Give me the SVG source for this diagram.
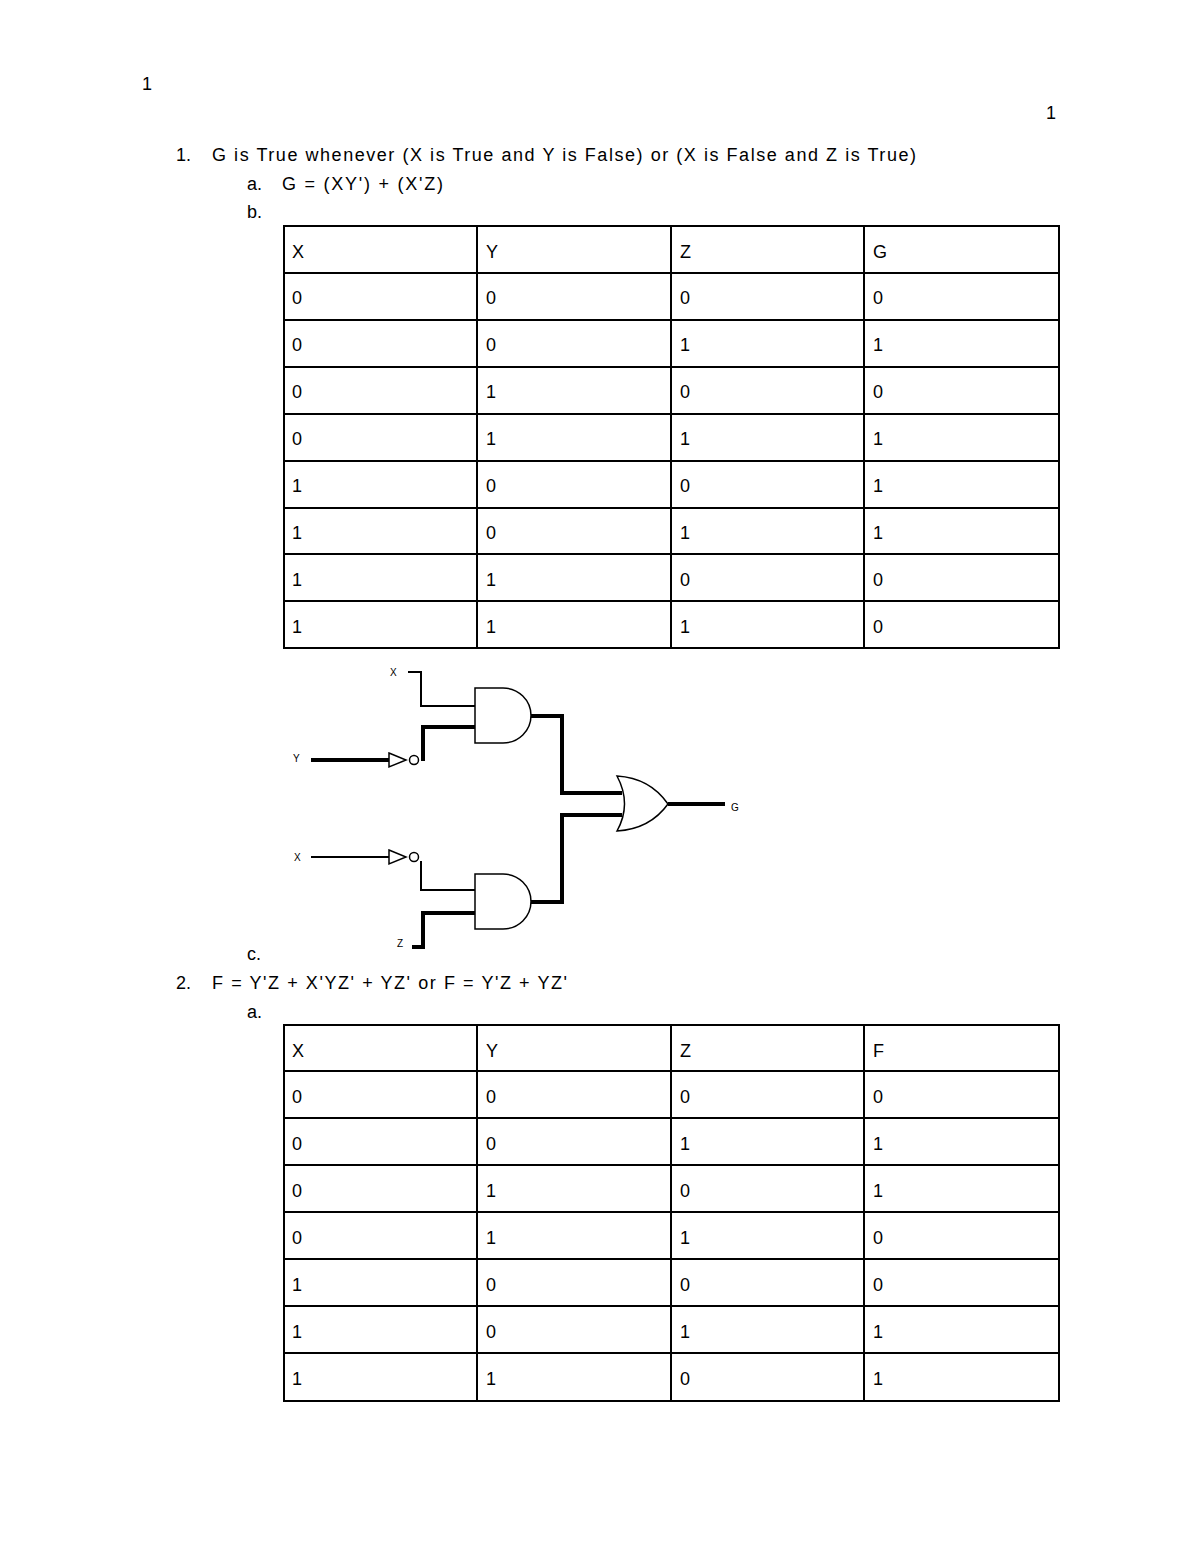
<svg xmlns="http://www.w3.org/2000/svg" width="1200" height="1553" viewBox="0 0 1200 1553">
<style>
text{font-family:"Liberation Sans",Arial,sans-serif;font-size:18px;fill:#000}
.s{font-size:10px}
.g line{stroke:#000;stroke-width:2}
.w{stroke:#000;stroke-width:2;fill:none}
.t{stroke:#000;stroke-width:4;fill:none}
.gate{stroke:#000;stroke-width:1.5;fill:#fff}
</style>
<rect width="1200" height="1553" fill="#fff"/>
<text x="142" y="90">1</text>
<text x="1046" y="119">1</text>
<text x="176" y="161">1.</text><text x="212" y="161" textLength="704" lengthAdjust="spacing">G is True whenever (X is True and Y is False) or (X is False and Z is True)</text>
<text x="247" y="190">a.</text><text x="282" y="190" textLength="161" lengthAdjust="spacing">G = (XY') + (X'Z)</text>
<text x="247" y="218">b.</text>
<g id="table1" class="g">
<line x1="283" y1="226" x2="1060" y2="226"/><line x1="283" y1="273" x2="1060" y2="273"/><line x1="283" y1="320" x2="1060" y2="320"/><line x1="283" y1="367" x2="1060" y2="367"/><line x1="283" y1="414" x2="1060" y2="414"/><line x1="283" y1="461" x2="1060" y2="461"/><line x1="283" y1="508" x2="1060" y2="508"/><line x1="283" y1="554" x2="1060" y2="554"/><line x1="283" y1="601" x2="1060" y2="601"/><line x1="283" y1="648" x2="1060" y2="648"/>
<line x1="284" y1="226" x2="284" y2="648"/><line x1="477" y1="226" x2="477" y2="648"/><line x1="671" y1="226" x2="671" y2="648"/><line x1="864" y1="226" x2="864" y2="648"/><line x1="1059" y1="226" x2="1059" y2="648"/>
</g>
<g id="table1-text">
<text x="292" y="258">X</text><text x="486" y="258">Y</text><text x="680" y="258">Z</text><text x="873" y="258">G</text>
<text x="292" y="304">0</text><text x="486" y="304">0</text><text x="680" y="304">0</text><text x="873" y="304">0</text>
<text x="292" y="351">0</text><text x="486" y="351">0</text><text x="680" y="351">1</text><text x="873" y="351">1</text>
<text x="292" y="398">0</text><text x="486" y="398">1</text><text x="680" y="398">0</text><text x="873" y="398">0</text>
<text x="292" y="445">0</text><text x="486" y="445">1</text><text x="680" y="445">1</text><text x="873" y="445">1</text>
<text x="292" y="492">1</text><text x="486" y="492">0</text><text x="680" y="492">0</text><text x="873" y="492">1</text>
<text x="292" y="539">1</text><text x="486" y="539">0</text><text x="680" y="539">1</text><text x="873" y="539">1</text>
<text x="292" y="586">1</text><text x="486" y="586">1</text><text x="680" y="586">0</text><text x="873" y="586">0</text>
<text x="292" y="633">1</text><text x="486" y="633">1</text><text x="680" y="633">1</text><text x="873" y="633">0</text>
</g>
<g id="connectors">
<path class="w" d="M408 672 H421 V706 H476"/>
<path class="t" d="M476 727 H423 V761"/>
<path class="t" d="M311 760 H390"/>
<path class="w" d="M311 857 H390"/>
<path class="w" d="M421 861 V890 H476"/>
<path class="t" d="M476 913 H423 V947 H412"/>
<path class="t" d="M530 716 H562 V793 H622"/>
<path class="t" d="M530 902 H562 V815 H622"/>
<path class="t" d="M668 804 H725"/>
</g>
<g id="and1"><path class="gate" d="M475 688 H503 A28 27.5 0 0 1 503 743 H475 Z"/></g>
<g id="and2"><path class="gate" d="M475 874 H503 A28 27.5 0 0 1 503 929 H475 Z"/></g>
<g id="or1"><path class="gate" d="M617 776 Q650 778 668 804 Q650 829 617 831 Q632 804 617 776 Z"/></g>
<g id="not1"><path class="gate" d="M389 753 L406 760 L389 767 Z"/><circle class="gate" cx="414" cy="760" r="4.5"/></g>
<g id="not2"><path class="gate" d="M389 850 L406 857 L389 864 Z"/><circle class="gate" cx="414" cy="857" r="4.5"/></g>
<g id="labels">
<text class="s" x="390" y="676">X</text>
<text class="s" x="293" y="762">Y</text>
<text class="s" x="294" y="861">X</text>
<text class="s" x="397" y="947">Z</text>
<text class="s" x="731" y="811">G</text>
</g>
<text x="247" y="960">c.</text>
<text x="176" y="989">2.</text><text x="212" y="989" textLength="355" lengthAdjust="spacing">F = Y'Z + X'YZ' + YZ' or F = Y'Z + YZ'</text>
<text x="247" y="1018">a.</text>
<g id="table2" class="g">
<line x1="283" y1="1025" x2="1060" y2="1025"/><line x1="283" y1="1071" x2="1060" y2="1071"/><line x1="283" y1="1118" x2="1060" y2="1118"/><line x1="283" y1="1165" x2="1060" y2="1165"/><line x1="283" y1="1212" x2="1060" y2="1212"/><line x1="283" y1="1259" x2="1060" y2="1259"/><line x1="283" y1="1306" x2="1060" y2="1306"/><line x1="283" y1="1353" x2="1060" y2="1353"/><line x1="283" y1="1401" x2="1060" y2="1401"/>
<line x1="284" y1="1025" x2="284" y2="1401"/><line x1="477" y1="1025" x2="477" y2="1401"/><line x1="671" y1="1025" x2="671" y2="1401"/><line x1="864" y1="1025" x2="864" y2="1401"/><line x1="1059" y1="1025" x2="1059" y2="1401"/>
</g>
<g id="table2-text">
<text x="292" y="1057">X</text><text x="486" y="1057">Y</text><text x="680" y="1057">Z</text><text x="873" y="1057">F</text>
<text x="292" y="1103">0</text><text x="486" y="1103">0</text><text x="680" y="1103">0</text><text x="873" y="1103">0</text>
<text x="292" y="1150">0</text><text x="486" y="1150">0</text><text x="680" y="1150">1</text><text x="873" y="1150">1</text>
<text x="292" y="1197">0</text><text x="486" y="1197">1</text><text x="680" y="1197">0</text><text x="873" y="1197">1</text>
<text x="292" y="1244">0</text><text x="486" y="1244">1</text><text x="680" y="1244">1</text><text x="873" y="1244">0</text>
<text x="292" y="1291">1</text><text x="486" y="1291">0</text><text x="680" y="1291">0</text><text x="873" y="1291">0</text>
<text x="292" y="1338">1</text><text x="486" y="1338">0</text><text x="680" y="1338">1</text><text x="873" y="1338">1</text>
<text x="292" y="1385">1</text><text x="486" y="1385">1</text><text x="680" y="1385">0</text><text x="873" y="1385">1</text>
</g>
</svg>
